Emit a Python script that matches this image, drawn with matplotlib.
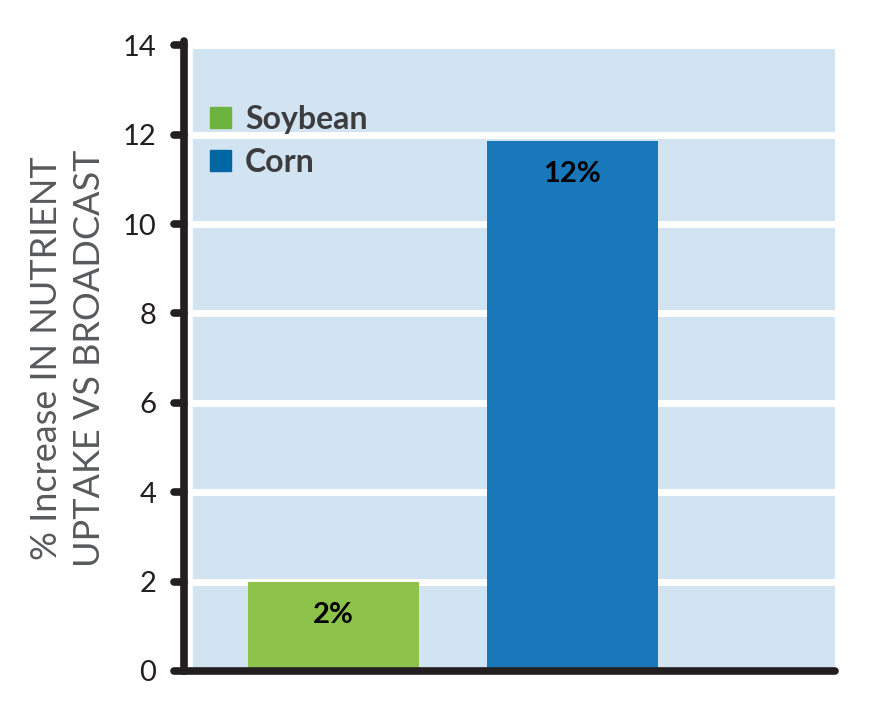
import matplotlib.pyplot as plt
from matplotlib.patches import Patch

categories = ['Soybean', 'Corn']
values = [2, 11.85]
labels = ['2%', '12%']
yticks = [0, 2, 4, 6, 8, 10, 12, 14]

bar_colors = ['#8DC34A', '#1878BA']
legend_colors = ['#6DB33F', '#0066A4']

plt.rcParams['font.family'] = ['Lato', 'DejaVu Sans']

fig = plt.figure(figsize=(8.76, 7.18), dpi=100)
ax = fig.add_axes([0.21, 0.0655, 0.743, 0.8715])
ax.set_facecolor('#D2E4F1')

ax.set_xlim(-0.6255, 2.098)
ax.set_ylim(0, 14)

# white horizontal grid bands
for t in yticks[:-1]:
    ax.axhline(t, color='white', lw=5, zorder=1)
ax.axhspan(13.91, 14, color='white', lw=0, zorder=1)
ax.axvline(-0.6255, color='white', lw=12, zorder=1)

x = list(range(len(categories)))
ax.bar(x, values, width=0.715, color=bar_colors, zorder=2)
for xi, v, lab in zip(x, values, labels):
    ax.text(xi, v - 0.45, lab, ha='center', va='top', fontsize=21,
            fontweight='bold', color='black', zorder=3)

# spines
for s in ['top', 'right']:
    ax.spines[s].set_visible(False)
for s in ['left', 'bottom']:
    ax.spines[s].set_linewidth(5.5)
    ax.spines[s].set_color('#231F20')
    ax.spines[s].set_capstyle('round')
    ax.spines[s].set_zorder(4)
ax.spines['left'].set_bounds(0, 14.1)

# rounded tick marks drawn by hand
ytr = ax.get_yaxis_transform()
for t in yticks:
    ax.plot([-0.016, 0], [t, t], transform=ytr, color='#231F20', lw=5.5,
            solid_capstyle='round', clip_on=False, zorder=5)

ax.set_xticks([])
ax.set_yticks(yticks)
ax.tick_params(axis='y', length=0, pad=20, labelsize=21, labelcolor='#231F20')

ax.set_ylabel('% Increase IN NUTRIENT\nUPTAKE VS BROADCAST', fontsize=26,
              color='#58595B', labelpad=12, linespacing=1.35)

handles = [Patch(color=c, label=n) for c, n in zip(legend_colors, categories)]
leg = ax.legend(handles=handles, loc='upper left', bbox_to_anchor=(0.04, 0.905),
                frameon=False, handlelength=0.65, handleheight=0.65,
                handletextpad=0.45, labelspacing=0.45, borderaxespad=0,
                borderpad=0, prop={'size': 23, 'weight': 'bold'})
for txt in leg.get_texts():
    txt.set_color('#3D3D3F')

fig.savefig('out.png', dpi=100)
